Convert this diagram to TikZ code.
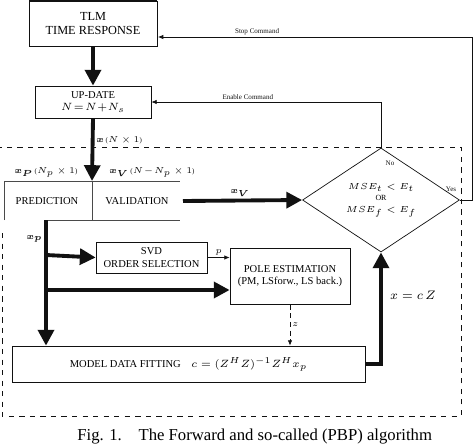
\documentclass[tikz,border=0pt]{standalone}
\usepackage{fontspec}
\setmainfont{Liberation Serif}
\usepackage{amsmath}
\usetikzlibrary{arrows.meta,positioning,shapes.geometric,calc}
\definecolor{scanInk}{HTML}{111111}
\definecolor{scanGrey}{HTML}{4A4A4A}

\begin{document}
\begin{tikzpicture}[x=0.02cm,y=-0.02cm,font=\fontsize{6}{7}\selectfont,>=Latex,
  blockbox/.style={draw=scanInk,thin,align=center,inner sep=1pt},
  flowthick/.style={line width=2.2pt,scanInk,-{Triangle[length=9pt,width=9pt]}},
  flowline/.style={line width=2.2pt,scanInk},
  flowthin/.style={thin,scanInk,-{Latex[length=3pt,width=2.5pt]}},
  smalltag/.style={font=\fontsize{4}{5}\selectfont,inner sep=1pt,text=scanInk}]
  \useasboundingbox (0,0) rectangle (474,447);
  % blocks
  \node[blockbox,minimum width=2.56cm,minimum height=0.9cm,font=\fontsize{7}{8.5}\selectfont] (tlm) at (93,23.5) {TLM\\TIME RESPONSE};
  \draw[line width=1.5pt,scanInk] (tlm.north west) -- (tlm.north east);
  \node[blockbox,minimum width=2.32cm,minimum height=0.64cm] (update) at (93,102) {UP-DATE\\$N\!=\!N\!+\!N_s$};
  \node[blockbox,minimum width=2.22cm,minimum height=0.62cm] (svd) at (151.5,257.5) {SVD\\ORDER SELECTION};
  \node[blockbox,minimum width=2.4cm,minimum height=1.12cm] (pole) at (290,276) {POLE ESTIMATION\\(PM, LSforw., LS back.)};
  \node[blockbox,minimum width=7.06cm,minimum height=0.72cm] (model) at (188.5,364)
     {MODEL DATA FITTING\quad $c=(Z^{H}Z)^{-1}Z^{H}x_{p}$};
  \node[draw=scanInk,thin,diamond,minimum width=3.14cm,minimum height=1.12cm,inner sep=0pt,align=center,font=\fontsize{5.5}{6.5}\selectfont] (test) at (381,200)
     {$MSE_t<E_t$\\{\fontsize{4.5}{6.5}\selectfont OR}\\$MSE_f<E_f$};
  % data window split in prediction / validation
  \draw[dashed,scanInk] (2,233) -- (2,416) -- (461,416) -- (461,147) -- (0,147);
  \coordinate (split) at (92,181);
  \coordinate (xpstart) at (46,220);
  \coordinate (xvstart) at (183,201);
  \draw[thin,scanGrey] (4,220) -- (4,181) -- (180,181);
  \draw[thin,scanGrey] (split) -- (92,220);
  \draw[thin,scanGrey] (xpstart) -- (180,220);
  \node (pred) at (47,201) {PREDICTION};
  \node (valid) at (137,201) {VALIDATION};
  \node[smalltag] (xplab) at (46,172) {$\boldsymbol{x_P}$ ($N_p\times1$)};
  \node[smalltag] (xvlab) at (152,172) {$\boldsymbol{x_V}$ ($N\!-\!N_p\times1$)};
  % main flow
  \draw[flowthick] (tlm.south) -- (update.north);
  \draw[flowthick] (update.south) -- node[right,smalltag,pos=0.35]{$\boldsymbol{x}$ ($N\times1$)} (split);
  \draw[flowthick] (xvstart) -- node[above,pos=0.48,smalltag,font=\fontsize{5}{6}\selectfont]{$\boldsymbol{x_V}$} (test.west);
  \draw[flowthick] (xpstart) -- node[left,pos=0.15,smalltag,font=\fontsize{5}{6}\selectfont]{$\boldsymbol{x_p}$} (model.north -| xpstart);
  \draw[flowthick] (46,255) -- (svd.west);
  \draw[flowthick] (46,290) -- (pole.west |- 0,290);
  \draw[flowthin] (svd.east) -- node[above,smalltag]{$p$} (pole.west |- svd.east);
  \draw[flowthin,densely dashed] (pole.south) -- node[right,smalltag]{$z$} (model.north -| pole.south);
  \draw[flowthick] (model.east) -| (test.south);
  \node[font=\fontsize{7}{8}\selectfont] (xcz) at (413,295) {$x=c\,Z$};
  % decisions
  \coordinate (stopin) at (158,37);
  \draw[flowthin] (test.east) -| (472,37) -- (stopin);
  \node[smalltag,anchor=south west] (stoplab) at (233,37) {Stop Command};
  \draw[flowthin] (test.north) |- node[pos=0.79,above,smalltag]{Enable Command} (update.east);
  \node[smalltag] (nolab) at (390,163) {No};
  \node[smalltag] (yeslab) at (451,189) {Yes};
  % caption
  \node[anchor=base west,font=\fontsize{9.5}{11}\selectfont,inner sep=0pt] (caption) at (77,440)
     {Fig. 1.\quad The Forward and so-called (PBP) algorithm};
\end{tikzpicture}
\end{document}
